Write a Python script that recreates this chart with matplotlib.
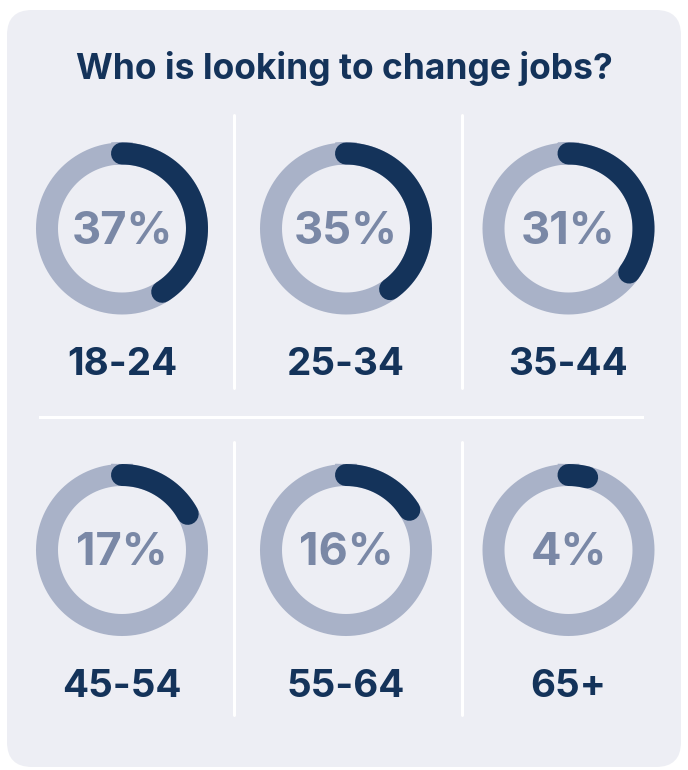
import numpy as np
import matplotlib
matplotlib.use("Agg")
import matplotlib.pyplot as plt
from matplotlib.patches import FancyBboxPatch

title = "Who is looking to change jobs?"
age_groups = ["18-24", "25-34", "35-44", "45-54", "55-64", "65+"]
shares = [37, 35, 31, 17, 16, 4]
# extent of the dark arc as drawn in the picture (percent of full circle)
arc_extent = [41, 40, 35, 17, 16, 4]

W, H = 688, 770
DPI = 100
NAVY = "#14335A"
TRACK = "#A9B2C8"
PCT = "#7A88A6"
CARD = "#EDEEF4"
FONT = ["Inter", "DejaVu Sans"]

fig = plt.figure(figsize=(W / DPI, H / DPI), dpi=DPI)
fig.patch.set_facecolor("white")

bg = fig.add_axes([0, 0, 1, 1])
bg.set_xlim(0, W)
bg.set_ylim(H, 0)
bg.axis("off")

card = FancyBboxPatch((7 + 25, 10 + 25), 674 - 50, 757 - 50,
                      boxstyle="round,pad=25", fc=CARD, ec="none")
bg.add_patch(card)

bg.text(W / 2, 79.5, title, ha="center", va="baseline", fontsize=25.5,
        fontweight="bold", color=NAVY, family=FONT)

# separators
lw_sep = 3 * 72 / DPI
for x in (233.5, 462):
    bg.plot([x, x], [115, 388], color="white", lw=lw_sep, solid_capstyle="round")
    bg.plot([x, x], [442, 715], color="white", lw=lw_sep, solid_capstyle="round")
bg.plot([40, 642], [417, 417], color="white", lw=lw_sep)

col_x = [122, 346, 568.5]
row_y = [228.5, 550]
label_base = [375, 697]

R_AX = 100  # px radius of polar axes
ring_lw = 22 * 72 / DPI
for i, (lab, val, ext) in enumerate(zip(age_groups, shares, arc_extent)):
    cx = col_x[i % 3]
    cy = row_y[i // 3]
    ax = fig.add_axes([(cx - R_AX) / W, 1 - (cy + R_AX) / H,
                       2 * R_AX / W, 2 * R_AX / H], projection="polar")
    ax.set_theta_zero_location("N")
    ax.set_theta_direction(-1)
    ax.set_ylim(0, 1)
    ax.axis("off")
    ax.patch.set_alpha(0)
    t = np.linspace(0, 2 * np.pi, 361)
    ax.plot(t, np.full_like(t, 0.75), color=TRACK, lw=ring_lw)
    te = np.linspace(0, 2 * np.pi * ext / 100, 200)
    ax.plot(te, np.full_like(te, 0.75), color=NAVY, lw=ring_lw,
            solid_capstyle="round")
    bg.text(cx, cy + 15, f"{val}%", ha="center", va="baseline", fontsize=32.5,
            fontweight="bold", color=PCT, family=FONT)
    bg.text(cx, label_base[i // 3], lab, ha="center", va="baseline",
            fontsize=27.8, fontweight="bold", color=NAVY, family=FONT)

fig.savefig("out.png", dpi=DPI, facecolor="white")
